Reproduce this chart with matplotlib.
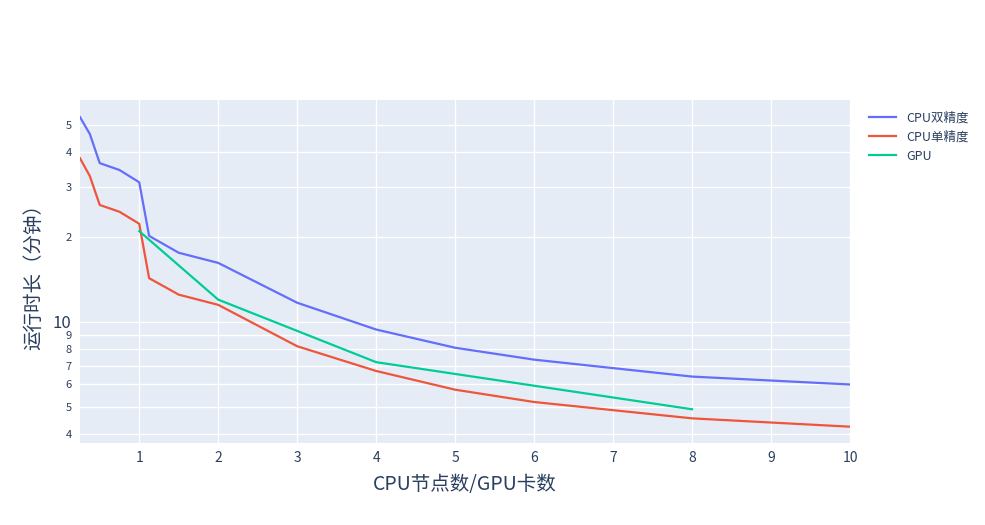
import matplotlib

matplotlib.use("Agg")
import matplotlib.pyplot as plt
from matplotlib.ticker import FixedLocator, NullFormatter, NullLocator

plt.rcParams["font.family"] = ["Noto Sans CJK SC", "DejaVu Sans"]

x_cpu = [0.25, 0.375, 0.5, 0.75, 1, 1.125, 1.5, 2, 3, 4, 5, 6, 8, 10]
cpu_double = [53.3, 46.4, 36.6, 34.6, 31.3, 20.2, 17.6, 16.2, 11.7, 9.4, 8.1, 7.35, 6.4, 6.0]
cpu_single = [38.1, 32.9, 26.0, 24.6, 22.3, 14.3, 12.5, 11.5, 8.2, 6.7, 5.75, 5.2, 4.55, 4.25]
x_gpu = [1, 2, 4, 8]
gpu = [21.0, 12.0, 7.2, 4.9]

fig = plt.figure(figsize=(9.85, 5.25), dpi=100)
ax = fig.add_axes([80 / 985, 1 - 443 / 525, 770 / 985, 343 / 525])
ax.set_facecolor("#E5ECF6")

ax.plot(x_cpu, cpu_double, color="#636EFA", lw=1.6, label="CPU双精度")
ax.plot(x_cpu, cpu_single, color="#EF553B", lw=1.6, label="CPU单精度")
ax.plot(x_gpu, gpu, color="#00CC96", lw=1.6, label="GPU")

ax.set_yscale("log")
ax.set_xlim(0.25, 10)
ax.set_ylim(3.72, 61.3)
yticks = [4, 5, 6, 7, 8, 9, 10, 20, 30, 40, 50]
ylabels = ["4", "5", "6", "7", "8", "9", "10", "2", "3", "4", "5"]
ax.yaxis.set_major_locator(FixedLocator(yticks))
ax.yaxis.set_minor_locator(NullLocator())
ax.set_yticks(yticks)
ax.set_yticklabels(ylabels)
for t, lab in zip(ax.get_yticklabels(), ylabels):
    t.set_fontsize(12 if lab == "10" else 8)
    t.set_color("#2A3F5F")
ax.set_xticks(range(1, 11))
ax.tick_params(axis="x", labelsize=10, colors="#2A3F5F", length=0, pad=6)
ax.tick_params(axis="y", length=0, pad=6)
ax.grid(color="white", lw=1)
ax.set_axisbelow(True)
for s in ax.spines.values():
    s.set_visible(False)

ax.set_xlabel("CPU节点数/GPU卡数", fontsize=14, color="#2A3F5F", labelpad=6)
ax.set_ylabel("运行时长（分钟）", fontsize=14, color="#2A3F5F", labelpad=6)

ax.legend(loc="upper left", bbox_to_anchor=(1.01, 1.0), frameon=False,
          fontsize=9, labelcolor="#2A3F5F", handlelength=2.2)

fig.savefig("out.png", dpi=100)
